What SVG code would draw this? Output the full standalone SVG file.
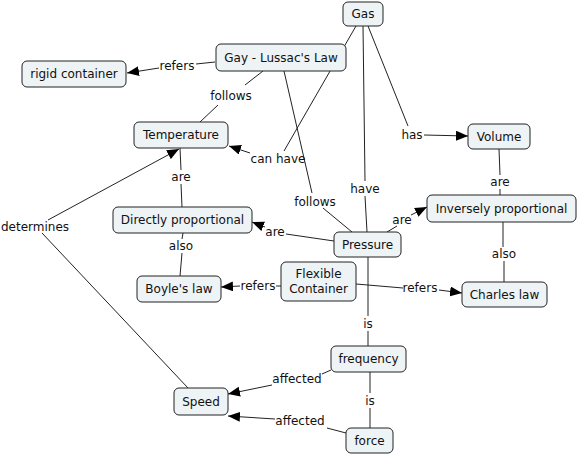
<svg xmlns="http://www.w3.org/2000/svg" width="577" height="455" viewBox="0 0 577 455">
<defs>
<marker id="arr" viewBox="0 0 12 10" refX="12" refY="5" markerWidth="12" markerHeight="10" markerUnits="userSpaceOnUse" orient="auto">
<path d="M0,0 L12,5 L0,10 z" fill="#000"/>
</marker>
<style>
.n rect{fill:#eef3f6;stroke:#222;stroke-width:1}
text{font-family:"DejaVu Sans","Verdana",sans-serif;font-size:12px;fill:#111;text-anchor:middle}
#connectors line{stroke:#222;stroke-width:1;fill:none}
#connectors line.a{marker-end:url(#arr)}
</style>
</defs>
<rect width="577" height="455" fill="#fff"/>
<g id="connectors">
<line x1="215" y1="62" x2="196" y2="64"/>
<line class="a" x1="159" y1="68" x2="127" y2="73"/>
<line x1="263" y1="71" x2="245" y2="85"/>
<line x1="218" y1="105" x2="200" y2="122"/>
<line x1="356" y1="26" x2="284" y2="151"/>
<line class="a" x1="250" y1="153" x2="229" y2="146"/>
<line x1="284" y1="71" x2="312" y2="193"/>
<line x1="323" y1="208" x2="352" y2="232"/>
<line x1="363" y1="26" x2="365" y2="181"/>
<line x1="365" y1="196" x2="367" y2="232"/>
<line x1="368" y1="26" x2="408" y2="126"/>
<line class="a" x1="424" y1="135" x2="468" y2="136"/>
<line x1="499" y1="149" x2="500" y2="175"/>
<line x1="500" y1="189" x2="500" y2="195"/>
<line x1="387" y1="232" x2="397" y2="226"/>
<line class="a" x1="411" y1="215" x2="427" y2="207"/>
<line x1="334" y1="241" x2="286" y2="234"/>
<line class="a" x1="265" y1="227" x2="252" y2="222"/>
<line x1="180" y1="148" x2="181" y2="170"/>
<line x1="181" y1="184" x2="182" y2="207"/>
<line x1="183" y1="233" x2="182" y2="239"/>
<line x1="182" y1="253" x2="180" y2="276"/>
<line x1="281" y1="286" x2="276" y2="286"/>
<line class="a" x1="240" y1="286" x2="221" y2="287"/>
<line x1="356" y1="284" x2="403" y2="288"/>
<line class="a" x1="439" y1="290" x2="462" y2="293"/>
<line x1="503" y1="222" x2="503" y2="247"/>
<line x1="504" y1="261" x2="504" y2="282"/>
<line x1="368" y1="257" x2="368" y2="316"/>
<line x1="368" y1="331" x2="368" y2="346"/>
<line x1="370" y1="372" x2="370" y2="393"/>
<line x1="370" y1="408" x2="370" y2="428"/>
<line x1="331" y1="370" x2="322" y2="374"/>
<line class="a" x1="272" y1="385" x2="228" y2="394"/>
<line x1="346" y1="433" x2="327" y2="428"/>
<line class="a" x1="275" y1="419" x2="228" y2="416"/>
<line x1="188" y1="388" x2="42" y2="233"/>
<line class="a" x1="48" y1="220" x2="179" y2="149"/>
<text x="177" y="70">refers</text>
<text x="231" y="100">follows</text>
<text x="278" y="163">can have</text>
<text x="315" y="206">follows</text>
<text x="365" y="193">have</text>
<text x="412" y="139">has</text>
<text x="500" y="186">are</text>
<text x="402" y="224">are</text>
<text x="275" y="236">are</text>
<text x="181" y="181">are</text>
<text x="181" y="250">also</text>
<text x="258" y="290">refers</text>
<text x="420" y="292">refers</text>
<text x="504" y="258">also</text>
<text x="368" y="328">is</text>
<text x="370" y="405">is</text>
<text x="297" y="383">affected</text>
<text x="300" y="425">affected</text>
<text x="35" y="231">determines</text>
</g>
<g id="gas" class="n"><rect x="343" y="2" width="40" height="24" rx="5"/><text x="363" y="18">Gas</text></g>
<g id="gay-lussac" class="n"><rect x="216" y="44" width="130" height="27" rx="5"/><text x="281" y="62">Gay - Lussac's Law</text></g>
<g id="rigid-container" class="n"><rect x="22" y="61" width="104" height="26" rx="5"/><text x="74" y="78">rigid container</text></g>
<g id="temperature" class="n"><rect x="134" y="122" width="94" height="26" rx="5"/><text x="181" y="139">Temperature</text></g>
<g id="volume" class="n"><rect x="468" y="124" width="62" height="25" rx="5"/><text x="499" y="141">Volume</text></g>
<g id="inversely" class="n"><rect x="427" y="195" width="149" height="27" rx="5"/><text x="501.5" y="213">Inversely proportional</text></g>
<g id="directly" class="n"><rect x="113" y="207" width="139" height="26" rx="5"/><text x="182.5" y="224">Directly proportional</text></g>
<g id="pressure" class="n"><rect x="334" y="232" width="67" height="25" rx="5"/><text x="367.5" y="249">Pressure</text></g>
<g id="flexible" class="n"><rect x="281" y="262" width="75" height="39" rx="5"/><text x="318.5" y="278">Flexible</text><text x="318.5" y="293">Container</text></g>
<g id="boyle" class="n"><rect x="137" y="276" width="84" height="26" rx="5"/><text x="179" y="293">Boyle's law</text></g>
<g id="charles" class="n"><rect x="462" y="282" width="85" height="25" rx="5"/><text x="504.5" y="299">Charles law</text></g>
<g id="frequency" class="n"><rect x="331" y="346" width="75" height="26" rx="5"/><text x="368.5" y="363">frequency</text></g>
<g id="speed" class="n"><rect x="174" y="388" width="54" height="27" rx="5"/><text x="201" y="405.5">Speed</text></g>
<g id="force" class="n"><rect x="346" y="428" width="47" height="25" rx="5"/><text x="369.5" y="445">force</text></g>
</svg>
